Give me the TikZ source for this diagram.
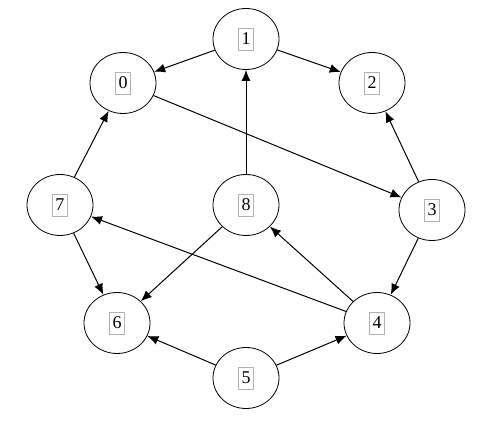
\documentclass[tikz,border=0pt]{standalone}
\usepackage{fontspec}
\setmainfont{Liberation Serif}
\usetikzlibrary{shapes.geometric,arrows.meta}
\tikzset{
  vtx/.style={draw, ellipse, minimum width=66pt, minimum height=61pt, inner sep=0pt, line width=0.8pt},
  lbl/.style={draw=gray!60, line width=0.7pt, minimum width=15pt, minimum height=22pt, inner sep=0pt, font=\fontsize{18}{20}\selectfont},
  edge/.style={->, line width=1pt}
}
\begin{document}
\begin{tikzpicture}[x=1pt, y=-1pt, >={Latex[length=11pt,width=9pt]}, line join=round]
    \useasboundingbox (0,0) rectangle (483,422);
    \foreach \i/\x/\y in {0/123/83, 1/246/39, 2/372/83, 3/432/210, 4/377/323,
                          5/246/378, 6/117/323, 7/60/205, 8/246/205}
    {
        \node[vtx] (n\i) at (\x,\y) {};
        \node[lbl] (l\i) at (n\i) {\i};
    }
    \foreach \a/\b in {1/0, 1/2, 8/1, 0/3, 3/2, 7/0, 7/6, 8/6, 4/8, 4/7, 3/4, 5/6, 5/4}
        \draw[edge] (n\a) -- (n\b);
\end{tikzpicture}
\end{document}
